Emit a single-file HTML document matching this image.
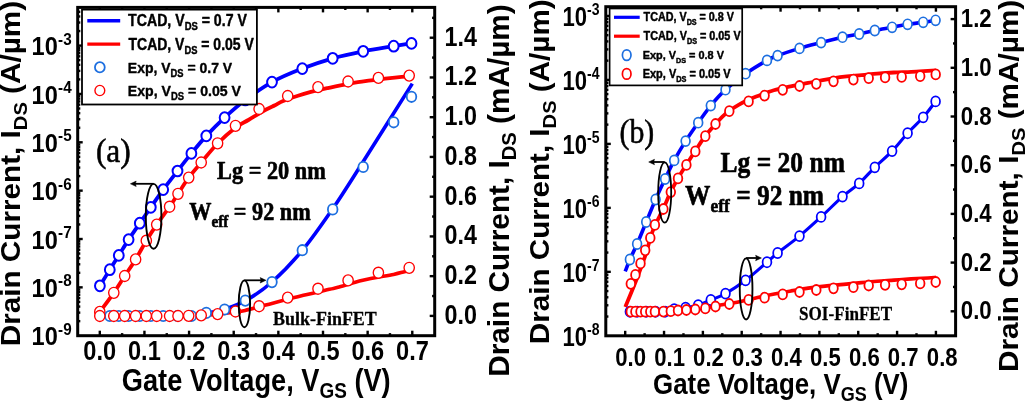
<!DOCTYPE html><html><head><meta charset="utf-8"><style>html,body{margin:0;padding:0;background:#fff;overflow:hidden}svg{display:block;will-change:transform}</style></head><body><svg xmlns="http://www.w3.org/2000/svg" width="1025" height="403" viewBox="0 0 1025 403">
<rect width="1025" height="403" fill="#fff"/>
<path d="M99.90,285.80 C101.55,283.12 106.65,274.77 109.80,269.70 C112.95,264.63 115.67,260.42 118.80,255.40 C121.93,250.38 125.10,244.97 128.60,239.60 C132.10,234.23 136.10,228.58 139.80,223.20 C143.50,217.82 146.90,212.90 150.80,207.30 C154.70,201.70 158.75,195.65 163.20,189.60 C167.65,183.55 172.80,177.03 177.50,171.00 C182.20,164.97 186.60,159.25 191.40,153.40 C196.20,147.55 200.77,141.87 206.30,135.90 C211.83,129.93 218.10,123.58 224.60,117.60 C231.10,111.62 237.40,105.92 245.30,100.00 C253.20,94.08 262.50,87.33 272.00,82.10 C281.50,76.87 292.18,72.57 302.30,68.60 C312.42,64.63 322.55,61.18 332.70,58.30 C342.85,55.42 353.03,53.32 363.20,51.30 C373.37,49.28 385.52,47.55 393.70,46.20 C401.88,44.85 409.20,43.70 412.30,43.20" fill="none" stroke="#0000ff" stroke-width="3.8" stroke-linejoin="round"/>
<path d="M99.80,311.90 C102.13,308.72 109.65,298.78 113.80,292.80 C117.95,286.82 121.07,281.57 124.70,276.00 C128.33,270.43 132.00,265.28 135.60,259.40 C139.20,253.52 142.78,246.50 146.30,240.70 C149.82,234.90 152.82,230.27 156.70,224.60 C160.58,218.93 166.05,211.83 169.60,206.70 C173.15,201.57 174.82,198.65 178.00,193.80 C181.18,188.95 184.83,182.82 188.70,177.60 C192.57,172.38 196.38,168.18 201.20,162.50 C206.02,156.82 211.80,149.38 217.60,143.50 C223.40,137.62 230.87,131.12 236.00,127.20 C241.13,123.28 243.55,122.87 248.40,120.00 C253.25,117.13 260.67,112.47 265.10,110.00 C269.53,107.53 272.00,106.70 275.00,105.20 C278.00,103.70 279.27,102.58 283.10,101.00 C286.93,99.42 293.52,97.17 298.00,95.70 C302.48,94.23 305.05,93.47 310.00,92.20 C314.95,90.93 322.62,89.23 327.70,88.10 C332.78,86.97 334.80,86.47 340.50,85.40 C346.20,84.33 352.83,82.98 361.90,81.70 C370.97,80.42 386.50,78.62 394.90,77.70 C403.30,76.78 409.40,76.45 412.30,76.20" fill="none" stroke="#ff0000" stroke-width="3.8" stroke-linejoin="round"/>
<path d="M99.80,316.00 C108.17,316.00 134.97,316.08 150.00,316.00 C165.03,315.92 180.62,315.97 190.00,315.50 C199.38,315.03 200.53,314.23 206.30,313.20 C212.07,312.17 217.98,311.43 224.60,309.30 C231.22,307.17 238.10,304.95 246.00,300.40 C253.90,295.85 262.62,290.33 272.00,282.00 C281.38,273.67 292.18,262.60 302.30,250.40 C312.42,238.20 322.75,223.28 332.70,208.80 C342.65,194.32 348.73,184.37 362.00,163.50 C375.27,142.63 403.92,96.92 412.30,83.60" fill="none" stroke="#0000ff" stroke-width="3.6" stroke-linejoin="round"/>
<path d="M99.80,316.00 C113.17,316.00 163.10,316.12 180.00,316.00 C196.90,315.88 194.90,315.62 201.20,315.30 C207.50,314.98 212.10,314.65 217.80,314.10 C223.50,313.55 230.85,312.62 235.40,312.00 C239.95,311.38 241.13,311.27 245.10,310.40 C249.07,309.53 254.45,308.05 259.20,306.80 C263.95,305.55 266.23,304.82 273.60,302.90 C280.97,300.98 294.10,297.57 303.40,295.30 C312.70,293.03 323.63,290.63 329.40,289.30 C335.17,287.97 332.43,288.80 338.00,287.30 C343.57,285.80 353.53,282.45 362.80,280.30 C372.07,278.15 386.82,275.80 393.60,274.40 C400.38,273.00 400.38,272.67 403.50,271.90 C406.62,271.13 410.83,270.15 412.30,269.80" fill="none" stroke="#ff0000" stroke-width="3.6" stroke-linejoin="round"/>
<ellipse cx="99.90" cy="285.80" rx="4.9" ry="5.35" fill="#fff" stroke="#0000ff" stroke-width="2"/>
<ellipse cx="109.80" cy="269.70" rx="4.9" ry="5.35" fill="#fff" stroke="#0000ff" stroke-width="2"/>
<ellipse cx="118.80" cy="255.40" rx="4.9" ry="5.35" fill="#fff" stroke="#0000ff" stroke-width="2"/>
<ellipse cx="128.60" cy="239.60" rx="4.9" ry="5.35" fill="#fff" stroke="#0000ff" stroke-width="2"/>
<ellipse cx="139.80" cy="223.20" rx="4.9" ry="5.35" fill="#fff" stroke="#0000ff" stroke-width="2"/>
<ellipse cx="150.80" cy="207.30" rx="4.9" ry="5.35" fill="#fff" stroke="#0000ff" stroke-width="2"/>
<ellipse cx="163.20" cy="189.60" rx="4.9" ry="5.35" fill="#fff" stroke="#0000ff" stroke-width="2"/>
<ellipse cx="177.50" cy="171.00" rx="4.9" ry="5.35" fill="#fff" stroke="#0000ff" stroke-width="2"/>
<ellipse cx="191.40" cy="153.40" rx="4.9" ry="5.35" fill="#fff" stroke="#0000ff" stroke-width="2"/>
<ellipse cx="206.30" cy="135.90" rx="4.9" ry="5.35" fill="#fff" stroke="#0000ff" stroke-width="2"/>
<ellipse cx="224.60" cy="117.60" rx="4.9" ry="5.35" fill="#fff" stroke="#0000ff" stroke-width="2"/>
<ellipse cx="245.30" cy="100.00" rx="4.9" ry="5.35" fill="#fff" stroke="#0000ff" stroke-width="2"/>
<ellipse cx="272.00" cy="82.10" rx="4.9" ry="5.35" fill="#fff" stroke="#0000ff" stroke-width="2"/>
<ellipse cx="302.30" cy="68.60" rx="4.9" ry="5.35" fill="#fff" stroke="#0000ff" stroke-width="2"/>
<ellipse cx="332.70" cy="58.30" rx="4.9" ry="5.35" fill="#fff" stroke="#0000ff" stroke-width="2"/>
<ellipse cx="363.20" cy="51.30" rx="4.9" ry="5.35" fill="#fff" stroke="#0000ff" stroke-width="2"/>
<ellipse cx="393.70" cy="46.20" rx="4.9" ry="5.35" fill="#fff" stroke="#0000ff" stroke-width="2"/>
<ellipse cx="411.50" cy="43.40" rx="4.9" ry="5.35" fill="#fff" stroke="#0000ff" stroke-width="2"/>
<ellipse cx="99.80" cy="311.90" rx="5.15" ry="5.5" fill="#fff" stroke="#ff0000" stroke-width="1.35"/>
<ellipse cx="113.80" cy="292.80" rx="5.15" ry="5.5" fill="#fff" stroke="#ff0000" stroke-width="1.35"/>
<ellipse cx="124.70" cy="276.00" rx="5.15" ry="5.5" fill="#fff" stroke="#ff0000" stroke-width="1.35"/>
<ellipse cx="135.60" cy="259.40" rx="5.15" ry="5.5" fill="#fff" stroke="#ff0000" stroke-width="1.35"/>
<ellipse cx="146.30" cy="240.70" rx="5.15" ry="5.5" fill="#fff" stroke="#ff0000" stroke-width="1.35"/>
<ellipse cx="156.70" cy="224.60" rx="5.15" ry="5.5" fill="#fff" stroke="#ff0000" stroke-width="1.35"/>
<ellipse cx="169.60" cy="206.70" rx="5.15" ry="5.5" fill="#fff" stroke="#ff0000" stroke-width="1.35"/>
<ellipse cx="178.00" cy="193.80" rx="5.15" ry="5.5" fill="#fff" stroke="#ff0000" stroke-width="1.35"/>
<ellipse cx="188.70" cy="177.60" rx="5.15" ry="5.5" fill="#fff" stroke="#ff0000" stroke-width="1.35"/>
<ellipse cx="201.20" cy="162.50" rx="5.15" ry="5.5" fill="#fff" stroke="#ff0000" stroke-width="1.35"/>
<ellipse cx="217.60" cy="143.30" rx="5.15" ry="5.5" fill="#fff" stroke="#ff0000" stroke-width="1.35"/>
<ellipse cx="235.50" cy="125.80" rx="5.15" ry="5.5" fill="#fff" stroke="#ff0000" stroke-width="1.35"/>
<ellipse cx="259.10" cy="109.00" rx="5.15" ry="5.5" fill="#fff" stroke="#ff0000" stroke-width="1.35"/>
<ellipse cx="287.70" cy="96.00" rx="5.15" ry="5.5" fill="#fff" stroke="#ff0000" stroke-width="1.35"/>
<ellipse cx="318.00" cy="87.10" rx="5.15" ry="5.5" fill="#fff" stroke="#ff0000" stroke-width="1.35"/>
<ellipse cx="348.10" cy="81.50" rx="5.15" ry="5.5" fill="#fff" stroke="#ff0000" stroke-width="1.35"/>
<ellipse cx="378.40" cy="77.90" rx="5.15" ry="5.5" fill="#fff" stroke="#ff0000" stroke-width="1.35"/>
<ellipse cx="409.20" cy="75.60" rx="5.15" ry="5.5" fill="#fff" stroke="#ff0000" stroke-width="1.35"/>
<ellipse cx="109.80" cy="316.00" rx="4.8" ry="5.2" fill="#fff" stroke="#1d6fe0" stroke-width="1.8"/>
<ellipse cx="118.80" cy="316.00" rx="4.8" ry="5.2" fill="#fff" stroke="#1d6fe0" stroke-width="1.8"/>
<ellipse cx="128.60" cy="316.00" rx="4.8" ry="5.2" fill="#fff" stroke="#1d6fe0" stroke-width="1.8"/>
<ellipse cx="139.80" cy="316.00" rx="4.8" ry="5.2" fill="#fff" stroke="#1d6fe0" stroke-width="1.8"/>
<ellipse cx="150.80" cy="316.00" rx="4.8" ry="5.2" fill="#fff" stroke="#1d6fe0" stroke-width="1.8"/>
<ellipse cx="163.20" cy="316.00" rx="4.8" ry="5.2" fill="#fff" stroke="#1d6fe0" stroke-width="1.8"/>
<ellipse cx="177.50" cy="316.00" rx="4.8" ry="5.2" fill="#fff" stroke="#1d6fe0" stroke-width="1.8"/>
<ellipse cx="191.40" cy="316.00" rx="4.8" ry="5.2" fill="#fff" stroke="#1d6fe0" stroke-width="1.8"/>
<ellipse cx="206.30" cy="312.90" rx="4.8" ry="5.2" fill="#fff" stroke="#1d6fe0" stroke-width="1.8"/>
<ellipse cx="224.60" cy="309.50" rx="4.8" ry="5.2" fill="#fff" stroke="#1d6fe0" stroke-width="1.8"/>
<ellipse cx="245.30" cy="300.60" rx="4.8" ry="5.2" fill="#fff" stroke="#1d6fe0" stroke-width="1.8"/>
<ellipse cx="272.00" cy="282.10" rx="4.8" ry="5.2" fill="#fff" stroke="#1d6fe0" stroke-width="1.8"/>
<ellipse cx="302.30" cy="250.20" rx="4.8" ry="5.2" fill="#fff" stroke="#1d6fe0" stroke-width="1.8"/>
<ellipse cx="332.70" cy="209.40" rx="4.8" ry="5.2" fill="#fff" stroke="#1d6fe0" stroke-width="1.8"/>
<ellipse cx="363.20" cy="167.00" rx="4.8" ry="5.2" fill="#fff" stroke="#1d6fe0" stroke-width="1.8"/>
<ellipse cx="393.70" cy="122.30" rx="4.8" ry="5.2" fill="#fff" stroke="#1d6fe0" stroke-width="1.8"/>
<ellipse cx="411.50" cy="96.80" rx="4.8" ry="5.2" fill="#fff" stroke="#1d6fe0" stroke-width="1.8"/>
<ellipse cx="99.80" cy="316.00" rx="5.15" ry="5.5" fill="#fff" stroke="#ff0000" stroke-width="1.35"/>
<ellipse cx="113.80" cy="316.00" rx="5.15" ry="5.5" fill="#fff" stroke="#ff0000" stroke-width="1.35"/>
<ellipse cx="124.70" cy="316.00" rx="5.15" ry="5.5" fill="#fff" stroke="#ff0000" stroke-width="1.35"/>
<ellipse cx="135.60" cy="316.00" rx="5.15" ry="5.5" fill="#fff" stroke="#ff0000" stroke-width="1.35"/>
<ellipse cx="146.30" cy="316.00" rx="5.15" ry="5.5" fill="#fff" stroke="#ff0000" stroke-width="1.35"/>
<ellipse cx="156.70" cy="316.00" rx="5.15" ry="5.5" fill="#fff" stroke="#ff0000" stroke-width="1.35"/>
<ellipse cx="169.60" cy="316.00" rx="5.15" ry="5.5" fill="#fff" stroke="#ff0000" stroke-width="1.35"/>
<ellipse cx="178.00" cy="316.00" rx="5.15" ry="5.5" fill="#fff" stroke="#ff0000" stroke-width="1.35"/>
<ellipse cx="188.70" cy="315.80" rx="5.15" ry="5.5" fill="#fff" stroke="#ff0000" stroke-width="1.35"/>
<ellipse cx="201.20" cy="315.40" rx="5.15" ry="5.5" fill="#fff" stroke="#ff0000" stroke-width="1.35"/>
<ellipse cx="217.60" cy="314.10" rx="5.15" ry="5.5" fill="#fff" stroke="#ff0000" stroke-width="1.35"/>
<ellipse cx="235.50" cy="311.50" rx="5.15" ry="5.5" fill="#fff" stroke="#ff0000" stroke-width="1.35"/>
<ellipse cx="259.10" cy="306.20" rx="5.15" ry="5.5" fill="#fff" stroke="#ff0000" stroke-width="1.35"/>
<ellipse cx="287.70" cy="297.60" rx="5.15" ry="5.5" fill="#fff" stroke="#ff0000" stroke-width="1.35"/>
<ellipse cx="318.00" cy="288.70" rx="5.15" ry="5.5" fill="#fff" stroke="#ff0000" stroke-width="1.35"/>
<ellipse cx="348.10" cy="280.40" rx="5.15" ry="5.5" fill="#fff" stroke="#ff0000" stroke-width="1.35"/>
<ellipse cx="378.40" cy="272.70" rx="5.15" ry="5.5" fill="#fff" stroke="#ff0000" stroke-width="1.35"/>
<ellipse cx="409.20" cy="267.80" rx="5.15" ry="5.5" fill="#fff" stroke="#ff0000" stroke-width="1.35"/>
<path d="M625.20,271.40 C625.98,269.42 627.92,264.07 629.90,259.50 C631.88,254.93 634.38,250.25 637.10,244.00 C639.82,237.75 643.12,229.42 646.20,222.00 C649.28,214.58 652.45,206.67 655.60,199.50 C658.75,192.33 662.00,185.52 665.10,179.00 C668.20,172.48 670.78,166.72 674.20,160.40 C677.62,154.08 681.60,147.38 685.60,141.10 C689.60,134.82 694.00,128.62 698.20,122.70 C702.40,116.78 706.25,111.10 710.80,105.60 C715.35,100.10 719.70,95.02 725.50,89.70 C731.30,84.38 738.68,78.58 745.60,73.70 C752.52,68.82 761.67,63.42 767.00,60.40 C772.33,57.38 772.18,57.60 777.60,55.60 C783.02,53.60 792.25,50.57 799.50,48.40 C806.75,46.23 813.93,44.47 821.10,42.60 C828.27,40.73 836.15,38.63 842.50,37.20 C848.85,35.77 853.82,35.12 859.20,34.00 C864.58,32.88 869.32,31.62 874.80,30.50 C880.28,29.38 886.63,28.33 892.10,27.30 C897.57,26.27 902.42,25.13 907.60,24.30 C912.78,23.47 918.53,22.97 923.20,22.30 C927.87,21.63 933.53,20.63 935.60,20.30" fill="none" stroke="#0000ff" stroke-width="3.6" stroke-linejoin="round"/>
<path d="M625.30,307.00 C627.13,302.50 632.82,289.00 636.30,280.00 C639.78,271.00 643.87,260.00 646.20,253.00 C648.53,246.00 648.83,242.57 650.30,238.00 C651.77,233.43 652.85,230.45 655.00,225.60 C657.15,220.75 660.60,214.47 663.20,208.90 C665.80,203.33 668.13,197.30 670.60,192.20 C673.07,187.10 675.37,182.88 678.00,178.30 C680.63,173.72 683.53,169.25 686.40,164.70 C689.27,160.15 692.07,155.78 695.20,151.00 C698.33,146.22 701.82,140.47 705.20,136.00 C708.58,131.53 712.67,127.40 715.50,124.20 C718.33,121.00 719.93,119.00 722.20,116.80 C724.47,114.60 726.37,112.98 729.10,111.00 C731.83,109.02 735.37,106.77 738.60,104.90 C741.83,103.03 745.45,101.23 748.50,99.80 C751.55,98.37 752.68,97.88 756.90,96.30 C761.12,94.72 768.18,91.95 773.80,90.30 C779.42,88.65 784.90,87.63 790.60,86.40 C796.30,85.17 799.77,84.45 808.00,82.90 C816.23,81.35 831.08,78.38 840.00,77.10 C848.92,75.82 855.33,75.77 861.50,75.20 C867.67,74.63 871.63,74.15 877.00,73.70 C882.37,73.25 888.00,72.82 893.70,72.50 C899.40,72.18 905.52,72.08 911.20,71.80 C916.88,71.52 923.68,71.05 927.80,70.80 C931.92,70.55 934.55,70.38 935.90,70.30" fill="none" stroke="#ff0000" stroke-width="3.8" stroke-linejoin="round"/>
<path d="M625.20,311.30 C631.00,311.25 651.83,311.33 660.00,311.00 C668.17,310.67 669.93,309.83 674.20,309.30 C678.47,308.77 681.60,308.48 685.60,307.80 C689.60,307.12 694.00,306.50 698.20,305.20 C702.40,303.90 706.25,301.93 710.80,300.00 C715.35,298.07 719.70,296.88 725.50,293.60 C731.30,290.32 738.68,285.53 745.60,280.30 C752.52,275.07 761.67,266.75 767.00,262.20 C772.33,257.65 772.18,257.35 777.60,253.00 C783.02,248.65 792.25,242.12 799.50,236.10 C806.75,230.08 813.93,223.48 821.10,216.90 C828.27,210.32 836.15,202.18 842.50,196.60 C848.85,191.02 853.82,188.28 859.20,183.40 C864.58,178.52 869.32,172.68 874.80,167.30 C880.28,161.92 886.63,156.78 892.10,151.10 C897.57,145.42 902.42,138.83 907.60,133.20 C912.78,127.57 918.53,122.60 923.20,117.30 C927.87,112.00 933.53,104.05 935.60,101.40" fill="none" stroke="#0000ff" stroke-width="3.1" stroke-linejoin="round"/>
<path d="M625.20,311.30 C631.57,311.28 653.20,311.45 663.40,311.20 C673.60,310.95 679.42,310.33 686.40,309.80 C693.38,309.27 700.40,308.67 705.30,308.00 C710.20,307.33 711.77,306.53 715.80,305.80 C719.83,305.07 724.63,304.48 729.50,303.60 C734.37,302.72 740.33,301.52 745.00,300.50 C749.67,299.48 752.62,298.58 757.50,297.50 C762.38,296.42 768.72,295.10 774.30,294.00 C779.88,292.90 785.35,291.88 791.00,290.90 C796.65,289.92 802.53,288.90 808.20,288.10 C813.87,287.30 819.08,286.72 825.00,286.10 C830.92,285.48 837.65,284.98 843.70,284.40 C849.75,283.82 855.73,283.13 861.30,282.60 C866.87,282.07 871.63,281.62 877.10,281.20 C882.57,280.78 888.43,280.48 894.10,280.10 C899.77,279.72 905.45,279.25 911.10,278.90 C916.75,278.55 923.87,278.25 928.00,278.00 C932.13,277.75 934.58,277.50 935.90,277.40" fill="none" stroke="#ff0000" stroke-width="3.6" stroke-linejoin="round"/>
<ellipse cx="629.90" cy="259.50" rx="4.4" ry="5.05" fill="#fff" stroke="#1d6fe0" stroke-width="1.7"/>
<ellipse cx="637.10" cy="244.00" rx="4.4" ry="5.05" fill="#fff" stroke="#1d6fe0" stroke-width="1.7"/>
<ellipse cx="646.20" cy="222.00" rx="4.4" ry="5.05" fill="#fff" stroke="#1d6fe0" stroke-width="1.7"/>
<ellipse cx="655.60" cy="199.50" rx="4.4" ry="5.05" fill="#fff" stroke="#1d6fe0" stroke-width="1.7"/>
<ellipse cx="665.10" cy="179.00" rx="4.4" ry="5.05" fill="#fff" stroke="#1d6fe0" stroke-width="1.7"/>
<ellipse cx="674.20" cy="160.40" rx="4.4" ry="5.05" fill="#fff" stroke="#1d6fe0" stroke-width="1.7"/>
<ellipse cx="685.60" cy="141.10" rx="4.4" ry="5.05" fill="#fff" stroke="#1d6fe0" stroke-width="1.7"/>
<ellipse cx="698.20" cy="122.70" rx="4.4" ry="5.05" fill="#fff" stroke="#1d6fe0" stroke-width="1.7"/>
<ellipse cx="710.80" cy="105.60" rx="4.4" ry="5.05" fill="#fff" stroke="#1d6fe0" stroke-width="1.7"/>
<ellipse cx="725.50" cy="89.70" rx="4.4" ry="5.05" fill="#fff" stroke="#1d6fe0" stroke-width="1.7"/>
<ellipse cx="745.60" cy="73.70" rx="4.4" ry="5.05" fill="#fff" stroke="#1d6fe0" stroke-width="1.7"/>
<ellipse cx="767.00" cy="60.40" rx="4.4" ry="5.05" fill="#fff" stroke="#1d6fe0" stroke-width="1.7"/>
<ellipse cx="777.60" cy="55.60" rx="4.4" ry="5.05" fill="#fff" stroke="#1d6fe0" stroke-width="1.7"/>
<ellipse cx="799.50" cy="48.40" rx="4.4" ry="5.05" fill="#fff" stroke="#1d6fe0" stroke-width="1.7"/>
<ellipse cx="821.10" cy="42.60" rx="4.4" ry="5.05" fill="#fff" stroke="#1d6fe0" stroke-width="1.7"/>
<ellipse cx="842.50" cy="37.20" rx="4.4" ry="5.05" fill="#fff" stroke="#1d6fe0" stroke-width="1.7"/>
<ellipse cx="859.20" cy="34.00" rx="4.4" ry="5.05" fill="#fff" stroke="#1d6fe0" stroke-width="1.7"/>
<ellipse cx="874.80" cy="30.50" rx="4.4" ry="5.05" fill="#fff" stroke="#1d6fe0" stroke-width="1.7"/>
<ellipse cx="892.10" cy="27.30" rx="4.4" ry="5.05" fill="#fff" stroke="#1d6fe0" stroke-width="1.7"/>
<ellipse cx="907.60" cy="24.30" rx="4.4" ry="5.05" fill="#fff" stroke="#1d6fe0" stroke-width="1.7"/>
<ellipse cx="923.20" cy="22.30" rx="4.4" ry="5.05" fill="#fff" stroke="#1d6fe0" stroke-width="1.7"/>
<ellipse cx="935.60" cy="20.30" rx="4.4" ry="5.05" fill="#fff" stroke="#1d6fe0" stroke-width="1.7"/>
<ellipse cx="630.80" cy="283.80" rx="4.3" ry="5.0" fill="#fff" stroke="#ff0000" stroke-width="1.8"/>
<ellipse cx="635.40" cy="274.90" rx="4.3" ry="5.0" fill="#fff" stroke="#ff0000" stroke-width="1.8"/>
<ellipse cx="640.50" cy="263.40" rx="4.3" ry="5.0" fill="#fff" stroke="#ff0000" stroke-width="1.8"/>
<ellipse cx="645.20" cy="250.30" rx="4.3" ry="5.0" fill="#fff" stroke="#ff0000" stroke-width="1.8"/>
<ellipse cx="650.30" cy="237.90" rx="4.3" ry="5.0" fill="#fff" stroke="#ff0000" stroke-width="1.8"/>
<ellipse cx="654.90" cy="224.90" rx="4.3" ry="5.0" fill="#fff" stroke="#ff0000" stroke-width="1.8"/>
<ellipse cx="663.40" cy="209.00" rx="4.3" ry="5.0" fill="#fff" stroke="#ff0000" stroke-width="1.8"/>
<ellipse cx="670.80" cy="192.10" rx="4.3" ry="5.0" fill="#fff" stroke="#ff0000" stroke-width="1.8"/>
<ellipse cx="678.00" cy="178.40" rx="4.3" ry="5.0" fill="#fff" stroke="#ff0000" stroke-width="1.8"/>
<ellipse cx="686.40" cy="164.90" rx="4.3" ry="5.0" fill="#fff" stroke="#ff0000" stroke-width="1.8"/>
<ellipse cx="695.30" cy="151.40" rx="4.3" ry="5.0" fill="#fff" stroke="#ff0000" stroke-width="1.8"/>
<ellipse cx="705.30" cy="136.20" rx="4.3" ry="5.0" fill="#fff" stroke="#ff0000" stroke-width="1.8"/>
<ellipse cx="715.50" cy="124.00" rx="4.3" ry="5.0" fill="#fff" stroke="#ff0000" stroke-width="1.8"/>
<ellipse cx="729.30" cy="111.20" rx="4.3" ry="5.0" fill="#fff" stroke="#ff0000" stroke-width="1.8"/>
<ellipse cx="748.60" cy="101.40" rx="4.3" ry="5.0" fill="#fff" stroke="#ff0000" stroke-width="1.8"/>
<ellipse cx="764.60" cy="95.60" rx="4.3" ry="5.0" fill="#fff" stroke="#ff0000" stroke-width="1.8"/>
<ellipse cx="782.70" cy="89.80" rx="4.3" ry="5.0" fill="#fff" stroke="#ff0000" stroke-width="1.8"/>
<ellipse cx="799.50" cy="86.00" rx="4.3" ry="5.0" fill="#fff" stroke="#ff0000" stroke-width="1.8"/>
<ellipse cx="816.30" cy="83.80" rx="4.3" ry="5.0" fill="#fff" stroke="#ff0000" stroke-width="1.8"/>
<ellipse cx="833.50" cy="81.30" rx="4.3" ry="5.0" fill="#fff" stroke="#ff0000" stroke-width="1.8"/>
<ellipse cx="853.40" cy="79.60" rx="4.3" ry="5.0" fill="#fff" stroke="#ff0000" stroke-width="1.8"/>
<ellipse cx="868.70" cy="78.20" rx="4.3" ry="5.0" fill="#fff" stroke="#ff0000" stroke-width="1.8"/>
<ellipse cx="885.10" cy="77.40" rx="4.3" ry="5.0" fill="#fff" stroke="#ff0000" stroke-width="1.8"/>
<ellipse cx="901.70" cy="76.90" rx="4.3" ry="5.0" fill="#fff" stroke="#ff0000" stroke-width="1.8"/>
<ellipse cx="920.20" cy="76.20" rx="4.3" ry="5.0" fill="#fff" stroke="#ff0000" stroke-width="1.8"/>
<ellipse cx="935.70" cy="74.40" rx="4.3" ry="5.0" fill="#fff" stroke="#ff0000" stroke-width="1.8"/>
<ellipse cx="629.90" cy="311.70" rx="4.4" ry="5.05" fill="#fff" stroke="#0000ff" stroke-width="1.75"/>
<ellipse cx="637.10" cy="311.70" rx="4.4" ry="5.05" fill="#fff" stroke="#0000ff" stroke-width="1.75"/>
<ellipse cx="646.20" cy="311.70" rx="4.4" ry="5.05" fill="#fff" stroke="#0000ff" stroke-width="1.75"/>
<ellipse cx="655.60" cy="311.70" rx="4.4" ry="5.05" fill="#fff" stroke="#0000ff" stroke-width="1.75"/>
<ellipse cx="665.10" cy="311.70" rx="4.4" ry="5.05" fill="#fff" stroke="#0000ff" stroke-width="1.75"/>
<ellipse cx="674.20" cy="309.20" rx="4.4" ry="5.05" fill="#fff" stroke="#0000ff" stroke-width="1.75"/>
<ellipse cx="685.60" cy="307.70" rx="4.4" ry="5.05" fill="#fff" stroke="#0000ff" stroke-width="1.75"/>
<ellipse cx="698.20" cy="305.20" rx="4.4" ry="5.05" fill="#fff" stroke="#0000ff" stroke-width="1.75"/>
<ellipse cx="710.80" cy="300.00" rx="4.4" ry="5.05" fill="#fff" stroke="#0000ff" stroke-width="1.75"/>
<ellipse cx="725.50" cy="293.60" rx="4.4" ry="5.05" fill="#fff" stroke="#0000ff" stroke-width="1.75"/>
<ellipse cx="745.60" cy="280.30" rx="4.4" ry="5.05" fill="#fff" stroke="#0000ff" stroke-width="1.75"/>
<ellipse cx="767.00" cy="262.20" rx="4.4" ry="5.05" fill="#fff" stroke="#0000ff" stroke-width="1.75"/>
<ellipse cx="777.60" cy="253.00" rx="4.4" ry="5.05" fill="#fff" stroke="#0000ff" stroke-width="1.75"/>
<ellipse cx="799.50" cy="236.10" rx="4.4" ry="5.05" fill="#fff" stroke="#0000ff" stroke-width="1.75"/>
<ellipse cx="821.10" cy="216.90" rx="4.4" ry="5.05" fill="#fff" stroke="#0000ff" stroke-width="1.75"/>
<ellipse cx="842.50" cy="196.60" rx="4.4" ry="5.05" fill="#fff" stroke="#0000ff" stroke-width="1.75"/>
<ellipse cx="859.20" cy="183.40" rx="4.4" ry="5.05" fill="#fff" stroke="#0000ff" stroke-width="1.75"/>
<ellipse cx="874.80" cy="167.30" rx="4.4" ry="5.05" fill="#fff" stroke="#0000ff" stroke-width="1.75"/>
<ellipse cx="892.10" cy="151.10" rx="4.4" ry="5.05" fill="#fff" stroke="#0000ff" stroke-width="1.75"/>
<ellipse cx="907.60" cy="133.20" rx="4.4" ry="5.05" fill="#fff" stroke="#0000ff" stroke-width="1.75"/>
<ellipse cx="923.20" cy="117.30" rx="4.4" ry="5.05" fill="#fff" stroke="#0000ff" stroke-width="1.75"/>
<ellipse cx="935.60" cy="101.40" rx="4.4" ry="5.05" fill="#fff" stroke="#0000ff" stroke-width="1.75"/>
<ellipse cx="630.80" cy="311.70" rx="4.3" ry="5.0" fill="#fff" stroke="#ff0000" stroke-width="1.8"/>
<ellipse cx="635.40" cy="311.70" rx="4.3" ry="5.0" fill="#fff" stroke="#ff0000" stroke-width="1.8"/>
<ellipse cx="640.50" cy="311.70" rx="4.3" ry="5.0" fill="#fff" stroke="#ff0000" stroke-width="1.8"/>
<ellipse cx="645.20" cy="311.70" rx="4.3" ry="5.0" fill="#fff" stroke="#ff0000" stroke-width="1.8"/>
<ellipse cx="650.30" cy="311.70" rx="4.3" ry="5.0" fill="#fff" stroke="#ff0000" stroke-width="1.8"/>
<ellipse cx="654.90" cy="311.70" rx="4.3" ry="5.0" fill="#fff" stroke="#ff0000" stroke-width="1.8"/>
<ellipse cx="663.40" cy="311.60" rx="4.3" ry="5.0" fill="#fff" stroke="#ff0000" stroke-width="1.8"/>
<ellipse cx="670.80" cy="311.20" rx="4.3" ry="5.0" fill="#fff" stroke="#ff0000" stroke-width="1.8"/>
<ellipse cx="678.00" cy="310.50" rx="4.3" ry="5.0" fill="#fff" stroke="#ff0000" stroke-width="1.8"/>
<ellipse cx="686.40" cy="310.00" rx="4.3" ry="5.0" fill="#fff" stroke="#ff0000" stroke-width="1.8"/>
<ellipse cx="695.30" cy="309.50" rx="4.3" ry="5.0" fill="#fff" stroke="#ff0000" stroke-width="1.8"/>
<ellipse cx="705.30" cy="308.40" rx="4.3" ry="5.0" fill="#fff" stroke="#ff0000" stroke-width="1.8"/>
<ellipse cx="715.50" cy="306.50" rx="4.3" ry="5.0" fill="#fff" stroke="#ff0000" stroke-width="1.8"/>
<ellipse cx="729.30" cy="304.00" rx="4.3" ry="5.0" fill="#fff" stroke="#ff0000" stroke-width="1.8"/>
<ellipse cx="748.60" cy="299.90" rx="4.3" ry="5.0" fill="#fff" stroke="#ff0000" stroke-width="1.8"/>
<ellipse cx="764.60" cy="297.70" rx="4.3" ry="5.0" fill="#fff" stroke="#ff0000" stroke-width="1.8"/>
<ellipse cx="782.70" cy="294.40" rx="4.3" ry="5.0" fill="#fff" stroke="#ff0000" stroke-width="1.8"/>
<ellipse cx="799.50" cy="292.00" rx="4.3" ry="5.0" fill="#fff" stroke="#ff0000" stroke-width="1.8"/>
<ellipse cx="816.30" cy="290.00" rx="4.3" ry="5.0" fill="#fff" stroke="#ff0000" stroke-width="1.8"/>
<ellipse cx="833.50" cy="288.30" rx="4.3" ry="5.0" fill="#fff" stroke="#ff0000" stroke-width="1.8"/>
<ellipse cx="853.40" cy="287.20" rx="4.3" ry="5.0" fill="#fff" stroke="#ff0000" stroke-width="1.8"/>
<ellipse cx="868.70" cy="285.50" rx="4.3" ry="5.0" fill="#fff" stroke="#ff0000" stroke-width="1.8"/>
<ellipse cx="885.10" cy="284.80" rx="4.3" ry="5.0" fill="#fff" stroke="#ff0000" stroke-width="1.8"/>
<ellipse cx="901.70" cy="284.30" rx="4.3" ry="5.0" fill="#fff" stroke="#ff0000" stroke-width="1.8"/>
<ellipse cx="920.20" cy="283.40" rx="4.3" ry="5.0" fill="#fff" stroke="#ff0000" stroke-width="1.8"/>
<ellipse cx="935.70" cy="282.00" rx="4.3" ry="5.0" fill="#fff" stroke="#ff0000" stroke-width="1.8"/>
<line x1="99.80" y1="335.70" x2="99.80" y2="330.70" stroke="#000" stroke-width="2.4"/>
<line x1="99.80" y1="7.40" x2="99.80" y2="12.40" stroke="#000" stroke-width="2.4"/>
<line x1="144.44" y1="335.70" x2="144.44" y2="330.70" stroke="#000" stroke-width="2.4"/>
<line x1="144.44" y1="7.40" x2="144.44" y2="12.40" stroke="#000" stroke-width="2.4"/>
<line x1="189.08" y1="335.70" x2="189.08" y2="330.70" stroke="#000" stroke-width="2.4"/>
<line x1="189.08" y1="7.40" x2="189.08" y2="12.40" stroke="#000" stroke-width="2.4"/>
<line x1="233.72" y1="335.70" x2="233.72" y2="330.70" stroke="#000" stroke-width="2.4"/>
<line x1="233.72" y1="7.40" x2="233.72" y2="12.40" stroke="#000" stroke-width="2.4"/>
<line x1="278.36" y1="335.70" x2="278.36" y2="330.70" stroke="#000" stroke-width="2.4"/>
<line x1="278.36" y1="7.40" x2="278.36" y2="12.40" stroke="#000" stroke-width="2.4"/>
<line x1="323.00" y1="335.70" x2="323.00" y2="330.70" stroke="#000" stroke-width="2.4"/>
<line x1="323.00" y1="7.40" x2="323.00" y2="12.40" stroke="#000" stroke-width="2.4"/>
<line x1="367.64" y1="335.70" x2="367.64" y2="330.70" stroke="#000" stroke-width="2.4"/>
<line x1="367.64" y1="7.40" x2="367.64" y2="12.40" stroke="#000" stroke-width="2.4"/>
<line x1="412.28" y1="335.70" x2="412.28" y2="330.70" stroke="#000" stroke-width="2.4"/>
<line x1="412.28" y1="7.40" x2="412.28" y2="12.40" stroke="#000" stroke-width="2.4"/>
<line x1="122.12" y1="335.70" x2="122.12" y2="333.10" stroke="#000" stroke-width="2.4"/>
<line x1="122.12" y1="7.40" x2="122.12" y2="10.00" stroke="#000" stroke-width="2.4"/>
<line x1="166.76" y1="335.70" x2="166.76" y2="333.10" stroke="#000" stroke-width="2.4"/>
<line x1="166.76" y1="7.40" x2="166.76" y2="10.00" stroke="#000" stroke-width="2.4"/>
<line x1="211.40" y1="335.70" x2="211.40" y2="333.10" stroke="#000" stroke-width="2.4"/>
<line x1="211.40" y1="7.40" x2="211.40" y2="10.00" stroke="#000" stroke-width="2.4"/>
<line x1="256.04" y1="335.70" x2="256.04" y2="333.10" stroke="#000" stroke-width="2.4"/>
<line x1="256.04" y1="7.40" x2="256.04" y2="10.00" stroke="#000" stroke-width="2.4"/>
<line x1="300.68" y1="335.70" x2="300.68" y2="333.10" stroke="#000" stroke-width="2.4"/>
<line x1="300.68" y1="7.40" x2="300.68" y2="10.00" stroke="#000" stroke-width="2.4"/>
<line x1="345.32" y1="335.70" x2="345.32" y2="333.10" stroke="#000" stroke-width="2.4"/>
<line x1="345.32" y1="7.40" x2="345.32" y2="10.00" stroke="#000" stroke-width="2.4"/>
<line x1="389.96" y1="335.70" x2="389.96" y2="333.10" stroke="#000" stroke-width="2.4"/>
<line x1="389.96" y1="7.40" x2="389.96" y2="10.00" stroke="#000" stroke-width="2.4"/>
<line x1="77.70" y1="287.35" x2="82.70" y2="287.35" stroke="#000" stroke-width="2.4"/>
<line x1="77.70" y1="239.00" x2="82.70" y2="239.00" stroke="#000" stroke-width="2.4"/>
<line x1="77.70" y1="190.65" x2="82.70" y2="190.65" stroke="#000" stroke-width="2.4"/>
<line x1="77.70" y1="142.30" x2="82.70" y2="142.30" stroke="#000" stroke-width="2.4"/>
<line x1="77.70" y1="93.95" x2="82.70" y2="93.95" stroke="#000" stroke-width="2.4"/>
<line x1="77.70" y1="45.60" x2="82.70" y2="45.60" stroke="#000" stroke-width="2.4"/>
<line x1="77.70" y1="321.15" x2="80.30" y2="321.15" stroke="#000" stroke-width="2.4"/>
<line x1="77.70" y1="312.63" x2="80.30" y2="312.63" stroke="#000" stroke-width="2.4"/>
<line x1="77.70" y1="306.59" x2="80.30" y2="306.59" stroke="#000" stroke-width="2.4"/>
<line x1="77.70" y1="301.90" x2="80.30" y2="301.90" stroke="#000" stroke-width="2.4"/>
<line x1="77.70" y1="298.08" x2="80.30" y2="298.08" stroke="#000" stroke-width="2.4"/>
<line x1="77.70" y1="294.84" x2="80.30" y2="294.84" stroke="#000" stroke-width="2.4"/>
<line x1="77.70" y1="292.04" x2="80.30" y2="292.04" stroke="#000" stroke-width="2.4"/>
<line x1="77.70" y1="289.56" x2="80.30" y2="289.56" stroke="#000" stroke-width="2.4"/>
<line x1="77.70" y1="272.80" x2="80.30" y2="272.80" stroke="#000" stroke-width="2.4"/>
<line x1="77.70" y1="264.28" x2="80.30" y2="264.28" stroke="#000" stroke-width="2.4"/>
<line x1="77.70" y1="258.24" x2="80.30" y2="258.24" stroke="#000" stroke-width="2.4"/>
<line x1="77.70" y1="253.55" x2="80.30" y2="253.55" stroke="#000" stroke-width="2.4"/>
<line x1="77.70" y1="249.73" x2="80.30" y2="249.73" stroke="#000" stroke-width="2.4"/>
<line x1="77.70" y1="246.49" x2="80.30" y2="246.49" stroke="#000" stroke-width="2.4"/>
<line x1="77.70" y1="243.69" x2="80.30" y2="243.69" stroke="#000" stroke-width="2.4"/>
<line x1="77.70" y1="241.21" x2="80.30" y2="241.21" stroke="#000" stroke-width="2.4"/>
<line x1="77.70" y1="224.45" x2="80.30" y2="224.45" stroke="#000" stroke-width="2.4"/>
<line x1="77.70" y1="215.93" x2="80.30" y2="215.93" stroke="#000" stroke-width="2.4"/>
<line x1="77.70" y1="209.89" x2="80.30" y2="209.89" stroke="#000" stroke-width="2.4"/>
<line x1="77.70" y1="205.20" x2="80.30" y2="205.20" stroke="#000" stroke-width="2.4"/>
<line x1="77.70" y1="201.38" x2="80.30" y2="201.38" stroke="#000" stroke-width="2.4"/>
<line x1="77.70" y1="198.14" x2="80.30" y2="198.14" stroke="#000" stroke-width="2.4"/>
<line x1="77.70" y1="195.34" x2="80.30" y2="195.34" stroke="#000" stroke-width="2.4"/>
<line x1="77.70" y1="192.86" x2="80.30" y2="192.86" stroke="#000" stroke-width="2.4"/>
<line x1="77.70" y1="176.10" x2="80.30" y2="176.10" stroke="#000" stroke-width="2.4"/>
<line x1="77.70" y1="167.58" x2="80.30" y2="167.58" stroke="#000" stroke-width="2.4"/>
<line x1="77.70" y1="161.54" x2="80.30" y2="161.54" stroke="#000" stroke-width="2.4"/>
<line x1="77.70" y1="156.85" x2="80.30" y2="156.85" stroke="#000" stroke-width="2.4"/>
<line x1="77.70" y1="153.03" x2="80.30" y2="153.03" stroke="#000" stroke-width="2.4"/>
<line x1="77.70" y1="149.79" x2="80.30" y2="149.79" stroke="#000" stroke-width="2.4"/>
<line x1="77.70" y1="146.99" x2="80.30" y2="146.99" stroke="#000" stroke-width="2.4"/>
<line x1="77.70" y1="144.51" x2="80.30" y2="144.51" stroke="#000" stroke-width="2.4"/>
<line x1="77.70" y1="127.75" x2="80.30" y2="127.75" stroke="#000" stroke-width="2.4"/>
<line x1="77.70" y1="119.23" x2="80.30" y2="119.23" stroke="#000" stroke-width="2.4"/>
<line x1="77.70" y1="113.19" x2="80.30" y2="113.19" stroke="#000" stroke-width="2.4"/>
<line x1="77.70" y1="108.50" x2="80.30" y2="108.50" stroke="#000" stroke-width="2.4"/>
<line x1="77.70" y1="104.68" x2="80.30" y2="104.68" stroke="#000" stroke-width="2.4"/>
<line x1="77.70" y1="101.44" x2="80.30" y2="101.44" stroke="#000" stroke-width="2.4"/>
<line x1="77.70" y1="98.64" x2="80.30" y2="98.64" stroke="#000" stroke-width="2.4"/>
<line x1="77.70" y1="96.16" x2="80.30" y2="96.16" stroke="#000" stroke-width="2.4"/>
<line x1="77.70" y1="79.40" x2="80.30" y2="79.40" stroke="#000" stroke-width="2.4"/>
<line x1="77.70" y1="70.88" x2="80.30" y2="70.88" stroke="#000" stroke-width="2.4"/>
<line x1="77.70" y1="64.84" x2="80.30" y2="64.84" stroke="#000" stroke-width="2.4"/>
<line x1="77.70" y1="60.15" x2="80.30" y2="60.15" stroke="#000" stroke-width="2.4"/>
<line x1="77.70" y1="56.33" x2="80.30" y2="56.33" stroke="#000" stroke-width="2.4"/>
<line x1="77.70" y1="53.09" x2="80.30" y2="53.09" stroke="#000" stroke-width="2.4"/>
<line x1="77.70" y1="50.29" x2="80.30" y2="50.29" stroke="#000" stroke-width="2.4"/>
<line x1="77.70" y1="47.81" x2="80.30" y2="47.81" stroke="#000" stroke-width="2.4"/>
<line x1="77.70" y1="31.05" x2="80.30" y2="31.05" stroke="#000" stroke-width="2.4"/>
<line x1="77.70" y1="22.53" x2="80.30" y2="22.53" stroke="#000" stroke-width="2.4"/>
<line x1="77.70" y1="16.49" x2="80.30" y2="16.49" stroke="#000" stroke-width="2.4"/>
<line x1="77.70" y1="11.80" x2="80.30" y2="11.80" stroke="#000" stroke-width="2.4"/>
<line x1="434.70" y1="315.90" x2="429.70" y2="315.90" stroke="#000" stroke-width="2.4"/>
<line x1="434.70" y1="276.16" x2="429.70" y2="276.16" stroke="#000" stroke-width="2.4"/>
<line x1="434.70" y1="236.42" x2="429.70" y2="236.42" stroke="#000" stroke-width="2.4"/>
<line x1="434.70" y1="196.68" x2="429.70" y2="196.68" stroke="#000" stroke-width="2.4"/>
<line x1="434.70" y1="156.94" x2="429.70" y2="156.94" stroke="#000" stroke-width="2.4"/>
<line x1="434.70" y1="117.20" x2="429.70" y2="117.20" stroke="#000" stroke-width="2.4"/>
<line x1="434.70" y1="77.46" x2="429.70" y2="77.46" stroke="#000" stroke-width="2.4"/>
<line x1="434.70" y1="37.72" x2="429.70" y2="37.72" stroke="#000" stroke-width="2.4"/>
<line x1="434.70" y1="296.03" x2="432.10" y2="296.03" stroke="#000" stroke-width="2.4"/>
<line x1="434.70" y1="256.29" x2="432.10" y2="256.29" stroke="#000" stroke-width="2.4"/>
<line x1="434.70" y1="216.55" x2="432.10" y2="216.55" stroke="#000" stroke-width="2.4"/>
<line x1="434.70" y1="176.81" x2="432.10" y2="176.81" stroke="#000" stroke-width="2.4"/>
<line x1="434.70" y1="137.07" x2="432.10" y2="137.07" stroke="#000" stroke-width="2.4"/>
<line x1="434.70" y1="97.33" x2="432.10" y2="97.33" stroke="#000" stroke-width="2.4"/>
<line x1="434.70" y1="57.59" x2="432.10" y2="57.59" stroke="#000" stroke-width="2.4"/>
<line x1="434.70" y1="17.85" x2="432.10" y2="17.85" stroke="#000" stroke-width="2.4"/>
<rect x="77.7" y="7.4" width="357.0" height="328.3" fill="none" stroke="#000" stroke-width="3.0"/>
<line x1="625.20" y1="335.80" x2="625.20" y2="330.80" stroke="#000" stroke-width="2.4"/>
<line x1="625.20" y1="6.70" x2="625.20" y2="11.70" stroke="#000" stroke-width="2.4"/>
<line x1="664.04" y1="335.80" x2="664.04" y2="330.80" stroke="#000" stroke-width="2.4"/>
<line x1="664.04" y1="6.70" x2="664.04" y2="11.70" stroke="#000" stroke-width="2.4"/>
<line x1="702.88" y1="335.80" x2="702.88" y2="330.80" stroke="#000" stroke-width="2.4"/>
<line x1="702.88" y1="6.70" x2="702.88" y2="11.70" stroke="#000" stroke-width="2.4"/>
<line x1="741.72" y1="335.80" x2="741.72" y2="330.80" stroke="#000" stroke-width="2.4"/>
<line x1="741.72" y1="6.70" x2="741.72" y2="11.70" stroke="#000" stroke-width="2.4"/>
<line x1="780.56" y1="335.80" x2="780.56" y2="330.80" stroke="#000" stroke-width="2.4"/>
<line x1="780.56" y1="6.70" x2="780.56" y2="11.70" stroke="#000" stroke-width="2.4"/>
<line x1="819.40" y1="335.80" x2="819.40" y2="330.80" stroke="#000" stroke-width="2.4"/>
<line x1="819.40" y1="6.70" x2="819.40" y2="11.70" stroke="#000" stroke-width="2.4"/>
<line x1="858.24" y1="335.80" x2="858.24" y2="330.80" stroke="#000" stroke-width="2.4"/>
<line x1="858.24" y1="6.70" x2="858.24" y2="11.70" stroke="#000" stroke-width="2.4"/>
<line x1="897.08" y1="335.80" x2="897.08" y2="330.80" stroke="#000" stroke-width="2.4"/>
<line x1="897.08" y1="6.70" x2="897.08" y2="11.70" stroke="#000" stroke-width="2.4"/>
<line x1="935.92" y1="335.80" x2="935.92" y2="330.80" stroke="#000" stroke-width="2.4"/>
<line x1="935.92" y1="6.70" x2="935.92" y2="11.70" stroke="#000" stroke-width="2.4"/>
<line x1="644.62" y1="335.80" x2="644.62" y2="333.20" stroke="#000" stroke-width="2.4"/>
<line x1="644.62" y1="6.70" x2="644.62" y2="9.30" stroke="#000" stroke-width="2.4"/>
<line x1="683.46" y1="335.80" x2="683.46" y2="333.20" stroke="#000" stroke-width="2.4"/>
<line x1="683.46" y1="6.70" x2="683.46" y2="9.30" stroke="#000" stroke-width="2.4"/>
<line x1="722.30" y1="335.80" x2="722.30" y2="333.20" stroke="#000" stroke-width="2.4"/>
<line x1="722.30" y1="6.70" x2="722.30" y2="9.30" stroke="#000" stroke-width="2.4"/>
<line x1="761.14" y1="335.80" x2="761.14" y2="333.20" stroke="#000" stroke-width="2.4"/>
<line x1="761.14" y1="6.70" x2="761.14" y2="9.30" stroke="#000" stroke-width="2.4"/>
<line x1="799.98" y1="335.80" x2="799.98" y2="333.20" stroke="#000" stroke-width="2.4"/>
<line x1="799.98" y1="6.70" x2="799.98" y2="9.30" stroke="#000" stroke-width="2.4"/>
<line x1="838.82" y1="335.80" x2="838.82" y2="333.20" stroke="#000" stroke-width="2.4"/>
<line x1="838.82" y1="6.70" x2="838.82" y2="9.30" stroke="#000" stroke-width="2.4"/>
<line x1="877.66" y1="335.80" x2="877.66" y2="333.20" stroke="#000" stroke-width="2.4"/>
<line x1="877.66" y1="6.70" x2="877.66" y2="9.30" stroke="#000" stroke-width="2.4"/>
<line x1="916.50" y1="335.80" x2="916.50" y2="333.20" stroke="#000" stroke-width="2.4"/>
<line x1="916.50" y1="6.70" x2="916.50" y2="9.30" stroke="#000" stroke-width="2.4"/>
<line x1="605.80" y1="271.83" x2="610.80" y2="271.83" stroke="#000" stroke-width="2.4"/>
<line x1="605.80" y1="207.86" x2="610.80" y2="207.86" stroke="#000" stroke-width="2.4"/>
<line x1="605.80" y1="143.89" x2="610.80" y2="143.89" stroke="#000" stroke-width="2.4"/>
<line x1="605.80" y1="79.92" x2="610.80" y2="79.92" stroke="#000" stroke-width="2.4"/>
<line x1="605.80" y1="15.95" x2="610.80" y2="15.95" stroke="#000" stroke-width="2.4"/>
<line x1="605.80" y1="316.54" x2="608.40" y2="316.54" stroke="#000" stroke-width="2.4"/>
<line x1="605.80" y1="305.28" x2="608.40" y2="305.28" stroke="#000" stroke-width="2.4"/>
<line x1="605.80" y1="297.29" x2="608.40" y2="297.29" stroke="#000" stroke-width="2.4"/>
<line x1="605.80" y1="291.09" x2="608.40" y2="291.09" stroke="#000" stroke-width="2.4"/>
<line x1="605.80" y1="286.02" x2="608.40" y2="286.02" stroke="#000" stroke-width="2.4"/>
<line x1="605.80" y1="281.74" x2="608.40" y2="281.74" stroke="#000" stroke-width="2.4"/>
<line x1="605.80" y1="278.03" x2="608.40" y2="278.03" stroke="#000" stroke-width="2.4"/>
<line x1="605.80" y1="274.76" x2="608.40" y2="274.76" stroke="#000" stroke-width="2.4"/>
<line x1="605.80" y1="252.57" x2="608.40" y2="252.57" stroke="#000" stroke-width="2.4"/>
<line x1="605.80" y1="241.31" x2="608.40" y2="241.31" stroke="#000" stroke-width="2.4"/>
<line x1="605.80" y1="233.32" x2="608.40" y2="233.32" stroke="#000" stroke-width="2.4"/>
<line x1="605.80" y1="227.12" x2="608.40" y2="227.12" stroke="#000" stroke-width="2.4"/>
<line x1="605.80" y1="222.05" x2="608.40" y2="222.05" stroke="#000" stroke-width="2.4"/>
<line x1="605.80" y1="217.77" x2="608.40" y2="217.77" stroke="#000" stroke-width="2.4"/>
<line x1="605.80" y1="214.06" x2="608.40" y2="214.06" stroke="#000" stroke-width="2.4"/>
<line x1="605.80" y1="210.79" x2="608.40" y2="210.79" stroke="#000" stroke-width="2.4"/>
<line x1="605.80" y1="188.60" x2="608.40" y2="188.60" stroke="#000" stroke-width="2.4"/>
<line x1="605.80" y1="177.34" x2="608.40" y2="177.34" stroke="#000" stroke-width="2.4"/>
<line x1="605.80" y1="169.35" x2="608.40" y2="169.35" stroke="#000" stroke-width="2.4"/>
<line x1="605.80" y1="163.15" x2="608.40" y2="163.15" stroke="#000" stroke-width="2.4"/>
<line x1="605.80" y1="158.08" x2="608.40" y2="158.08" stroke="#000" stroke-width="2.4"/>
<line x1="605.80" y1="153.80" x2="608.40" y2="153.80" stroke="#000" stroke-width="2.4"/>
<line x1="605.80" y1="150.09" x2="608.40" y2="150.09" stroke="#000" stroke-width="2.4"/>
<line x1="605.80" y1="146.82" x2="608.40" y2="146.82" stroke="#000" stroke-width="2.4"/>
<line x1="605.80" y1="124.63" x2="608.40" y2="124.63" stroke="#000" stroke-width="2.4"/>
<line x1="605.80" y1="113.37" x2="608.40" y2="113.37" stroke="#000" stroke-width="2.4"/>
<line x1="605.80" y1="105.38" x2="608.40" y2="105.38" stroke="#000" stroke-width="2.4"/>
<line x1="605.80" y1="99.18" x2="608.40" y2="99.18" stroke="#000" stroke-width="2.4"/>
<line x1="605.80" y1="94.11" x2="608.40" y2="94.11" stroke="#000" stroke-width="2.4"/>
<line x1="605.80" y1="89.83" x2="608.40" y2="89.83" stroke="#000" stroke-width="2.4"/>
<line x1="605.80" y1="86.12" x2="608.40" y2="86.12" stroke="#000" stroke-width="2.4"/>
<line x1="605.80" y1="82.85" x2="608.40" y2="82.85" stroke="#000" stroke-width="2.4"/>
<line x1="605.80" y1="60.66" x2="608.40" y2="60.66" stroke="#000" stroke-width="2.4"/>
<line x1="605.80" y1="49.40" x2="608.40" y2="49.40" stroke="#000" stroke-width="2.4"/>
<line x1="605.80" y1="41.41" x2="608.40" y2="41.41" stroke="#000" stroke-width="2.4"/>
<line x1="605.80" y1="35.21" x2="608.40" y2="35.21" stroke="#000" stroke-width="2.4"/>
<line x1="605.80" y1="30.14" x2="608.40" y2="30.14" stroke="#000" stroke-width="2.4"/>
<line x1="605.80" y1="25.86" x2="608.40" y2="25.86" stroke="#000" stroke-width="2.4"/>
<line x1="605.80" y1="22.15" x2="608.40" y2="22.15" stroke="#000" stroke-width="2.4"/>
<line x1="605.80" y1="18.88" x2="608.40" y2="18.88" stroke="#000" stroke-width="2.4"/>
<line x1="955.60" y1="311.30" x2="950.60" y2="311.30" stroke="#000" stroke-width="2.4"/>
<line x1="955.60" y1="262.60" x2="950.60" y2="262.60" stroke="#000" stroke-width="2.4"/>
<line x1="955.60" y1="213.90" x2="950.60" y2="213.90" stroke="#000" stroke-width="2.4"/>
<line x1="955.60" y1="165.20" x2="950.60" y2="165.20" stroke="#000" stroke-width="2.4"/>
<line x1="955.60" y1="116.50" x2="950.60" y2="116.50" stroke="#000" stroke-width="2.4"/>
<line x1="955.60" y1="67.80" x2="950.60" y2="67.80" stroke="#000" stroke-width="2.4"/>
<line x1="955.60" y1="19.10" x2="950.60" y2="19.10" stroke="#000" stroke-width="2.4"/>
<line x1="955.60" y1="286.95" x2="953.00" y2="286.95" stroke="#000" stroke-width="2.4"/>
<line x1="955.60" y1="238.25" x2="953.00" y2="238.25" stroke="#000" stroke-width="2.4"/>
<line x1="955.60" y1="189.55" x2="953.00" y2="189.55" stroke="#000" stroke-width="2.4"/>
<line x1="955.60" y1="140.85" x2="953.00" y2="140.85" stroke="#000" stroke-width="2.4"/>
<line x1="955.60" y1="92.15" x2="953.00" y2="92.15" stroke="#000" stroke-width="2.4"/>
<line x1="955.60" y1="43.45" x2="953.00" y2="43.45" stroke="#000" stroke-width="2.4"/>
<rect x="605.8" y="6.7" width="349.80000000000007" height="329.1" fill="none" stroke="#000" stroke-width="3.0"/>
<ellipse cx="153.6" cy="216.3" rx="7.8" ry="32.4" fill="none" stroke="#000" stroke-width="1.9"/>
<line x1="153.60" y1="183.80" x2="134.46" y2="183.80" stroke="#000" stroke-width="1.8"/>
<path d="M130.4,183.8 L136.20000000000002,181.10000000000002 L135.33,183.8 L136.20000000000002,186.5 Z" fill="#000" stroke="#000" stroke-width="0.5" stroke-linejoin="round"/>
<ellipse cx="244.4" cy="303.8" rx="5.7" ry="23.45" fill="none" stroke="#000" stroke-width="1.9"/>
<line x1="244.40" y1="280.30" x2="261.94" y2="280.30" stroke="#000" stroke-width="1.8"/>
<path d="M266,280.3 L260.2,277.6 L261.07,280.3 L260.2,283.0 Z" fill="#000" stroke="#000" stroke-width="0.5" stroke-linejoin="round"/>
<ellipse cx="664.7" cy="192.55" rx="6.5" ry="30.15" fill="none" stroke="#000" stroke-width="1.8"/>
<line x1="664.70" y1="162.00" x2="652.76" y2="162.00" stroke="#000" stroke-width="1.8"/>
<path d="M648.7,162 L654.5,159.3 L653.63,162 L654.5,164.7 Z" fill="#000" stroke="#000" stroke-width="0.5" stroke-linejoin="round"/>
<ellipse cx="746.1" cy="288.9" rx="6.35" ry="30.6" fill="none" stroke="#000" stroke-width="1.85"/>
<line x1="746.10" y1="258.00" x2="757.34" y2="258.00" stroke="#000" stroke-width="1.8"/>
<path d="M761.4,258 L755.6,255.3 L756.47,258 L755.6,260.7 Z" fill="#000" stroke="#000" stroke-width="0.5" stroke-linejoin="round"/>
<rect x="82" y="9.6" width="174.89999999999998" height="94.9" fill="#fff" stroke="#000" stroke-width="1.8"/>
<line x1="87.30" y1="20.80" x2="120.20" y2="20.80" stroke="#0000ff" stroke-width="3.4"/>
<line x1="87.30" y1="44.10" x2="120.20" y2="44.10" stroke="#ff0000" stroke-width="3.4"/>
<ellipse cx="99.85" cy="67.3" rx="4.9" ry="5.15" fill="#fff" stroke="#1d6fe0" stroke-width="1.8"/>
<ellipse cx="99.85" cy="90.5" rx="4.9" ry="5.15" fill="#fff" stroke="#ff0000" stroke-width="1.4"/>
<rect x="609.6" y="8.5" width="132.60000000000002" height="76.9" fill="#fff" stroke="#000" stroke-width="1.7"/>
<line x1="614.00" y1="17.30" x2="639.70" y2="17.30" stroke="#0000ff" stroke-width="3.2"/>
<line x1="614.00" y1="36.20" x2="639.70" y2="36.20" stroke="#ff0000" stroke-width="3.2"/>
<ellipse cx="626.7" cy="55.1" rx="4.3" ry="5.3" fill="#fff" stroke="#1d6fe0" stroke-width="1.7"/>
<ellipse cx="626.7" cy="73.9" rx="4.3" ry="5.3" fill="#fff" stroke="#ff0000" stroke-width="1.7"/>
<g transform="translate(128.10,26.06) scale(0.9437,1.0441)"><text x="0" y="0" font-family="'Liberation Sans', sans-serif" font-weight="bold" font-size="15" text-anchor="start" stroke="#000" stroke-width="0.4" stroke-linejoin="round">TCAD, V<tspan font-size="10" dy="3.9">DS</tspan><tspan dy="-3.9"> = 0.7 V</tspan></text></g>
<g transform="translate(128.50,49.56) scale(0.9331,1.0441)"><text x="0" y="0" font-family="'Liberation Sans', sans-serif" font-weight="bold" font-size="15" text-anchor="start" stroke="#000" stroke-width="0.4" stroke-linejoin="round">TCAD, V<tspan font-size="10" dy="3.9">DS</tspan><tspan dy="-3.9"> = 0.05 V</tspan></text></g>
<g transform="translate(127.80,72.95) scale(0.9330,1.0237)"><text x="0" y="0" font-family="'Liberation Sans', sans-serif" font-weight="bold" font-size="15" text-anchor="start" stroke="#000" stroke-width="0.4" stroke-linejoin="round">Exp, V<tspan font-size="10" dy="3.9">DS</tspan><tspan dy="-3.9"> = 0.7 V</tspan></text></g>
<g transform="translate(127.79,96.45) scale(0.9423,1.0237)"><text x="0" y="0" font-family="'Liberation Sans', sans-serif" font-weight="bold" font-size="15" text-anchor="start" stroke="#000" stroke-width="0.4" stroke-linejoin="round">Exp, V<tspan font-size="10" dy="3.9">DS</tspan><tspan dy="-3.9"> = 0.05 V</tspan></text></g>
<g transform="translate(643.60,21.36) scale(0.7184,0.8339)"><text x="0" y="0" font-family="'Liberation Sans', sans-serif" font-weight="bold" font-size="15" text-anchor="start" stroke="#000" stroke-width="0.55" stroke-linejoin="round">TCAD, V<tspan font-size="10" dy="3.9">DS</tspan><tspan dy="-3.9"> = 0.8 V</tspan></text></g>
<g transform="translate(643.60,40.36) scale(0.7234,0.8339)"><text x="0" y="0" font-family="'Liberation Sans', sans-serif" font-weight="bold" font-size="15" text-anchor="start" stroke="#000" stroke-width="0.55" stroke-linejoin="round">TCAD, V<tspan font-size="10" dy="3.9">DS</tspan><tspan dy="-3.9"> = 0.05 V</tspan></text></g>
<g transform="translate(642.65,59.49) scale(0.7272,0.7797)"><text x="0" y="0" font-family="'Liberation Sans', sans-serif" font-weight="bold" font-size="15" text-anchor="start" stroke="#000" stroke-width="0.55" stroke-linejoin="round">Exp, V<tspan font-size="10" dy="3.9">DS</tspan><tspan dy="-3.9"> = 0.8 V</tspan></text></g>
<g transform="translate(642.65,78.31) scale(0.7322,0.8203)"><text x="0" y="0" font-family="'Liberation Sans', sans-serif" font-weight="bold" font-size="15" text-anchor="start" stroke="#000" stroke-width="0.55" stroke-linejoin="round">Exp, V<tspan font-size="10" dy="3.9">DS</tspan><tspan dy="-3.9"> = 0.05 V</tspan></text></g>
<g transform="translate(95.91,162.19) scale(0.8720,0.9383)"><text x="0" y="0" font-family="'Liberation Serif', serif" font-weight="normal" font-size="36" text-anchor="start" stroke="#000" stroke-width="0.6" stroke-linejoin="round">(a)</text></g>
<g transform="translate(619.47,143.10) scale(0.8278,0.9254)"><text x="0" y="0" font-family="'Liberation Serif', serif" font-weight="normal" font-size="36" text-anchor="start" stroke="#000" stroke-width="0.6" stroke-linejoin="round">(b)</text></g>
<g transform="translate(217.10,179.43) scale(0.9291,1.0233)"><text x="0" y="0" font-family="'Liberation Serif', serif" font-weight="bold" font-size="24" text-anchor="start" stroke="#000" stroke-width="0.6" stroke-linejoin="round">Lg = 20 nm</text></g>
<g transform="translate(720.46,172.12) scale(0.9455,1.0694)"><text x="0" y="0" font-family="'Liberation Serif', serif" font-weight="bold" font-size="27" text-anchor="start" stroke="#000" stroke-width="0.6" stroke-linejoin="round">Lg = 20 nm</text></g>
<g transform="translate(189.20,220.49) scale(0.9250,1.0391)"><text x="0" y="0" font-family="'Liberation Serif', serif" font-weight="bold" font-size="24" text-anchor="start" stroke="#000" stroke-width="0.6" stroke-linejoin="round">W<tspan font-size="16.5" dy="6.2">eff</tspan><tspan dy="-6.2"> = 92 nm</tspan></text></g>
<g transform="translate(685.10,204.99) scale(0.9410,1.0680)"><text x="0" y="0" font-family="'Liberation Serif', serif" font-weight="bold" font-size="27" text-anchor="start" stroke="#000" stroke-width="0.6" stroke-linejoin="round">W<tspan font-size="18.5" dy="7">eff</tspan><tspan dy="-7"> = 92 nm</tspan></text></g>
<g transform="translate(273.08,324.56) scale(0.8980,0.9754)"><text x="0" y="0" font-family="'Liberation Serif', serif" font-weight="bold" font-size="20" text-anchor="start" stroke="#000" stroke-width="0.3" stroke-linejoin="round">Bulk-FinFET</text></g>
<g transform="translate(799.05,320.16) scale(0.8548,0.9404)"><text x="0" y="0" font-family="'Liberation Serif', serif" font-weight="bold" font-size="20" text-anchor="start" stroke="#000" stroke-width="0.3" stroke-linejoin="round">SOI-FinFET</text></g>
<g transform="translate(99.67,359.93) scale(0.9435,1.0761)"><text x="0" y="0" font-family="'Liberation Sans', sans-serif" font-weight="bold" font-size="25" text-anchor="middle">0.0</text></g>
<g transform="translate(144.36,359.93) scale(0.9435,1.0761)"><text x="0" y="0" font-family="'Liberation Sans', sans-serif" font-weight="bold" font-size="25" text-anchor="middle">0.1</text></g>
<g transform="translate(189.05,359.93) scale(0.9435,1.0761)"><text x="0" y="0" font-family="'Liberation Sans', sans-serif" font-weight="bold" font-size="25" text-anchor="middle">0.2</text></g>
<g transform="translate(233.74,359.93) scale(0.9435,1.0761)"><text x="0" y="0" font-family="'Liberation Sans', sans-serif" font-weight="bold" font-size="25" text-anchor="middle">0.3</text></g>
<g transform="translate(278.43,359.93) scale(0.9435,1.0761)"><text x="0" y="0" font-family="'Liberation Sans', sans-serif" font-weight="bold" font-size="25" text-anchor="middle">0.4</text></g>
<g transform="translate(323.12,359.93) scale(0.9435,1.0761)"><text x="0" y="0" font-family="'Liberation Sans', sans-serif" font-weight="bold" font-size="25" text-anchor="middle">0.5</text></g>
<g transform="translate(367.81,359.93) scale(0.9435,1.0761)"><text x="0" y="0" font-family="'Liberation Sans', sans-serif" font-weight="bold" font-size="25" text-anchor="middle">0.6</text></g>
<g transform="translate(412.50,359.93) scale(0.9435,1.0761)"><text x="0" y="0" font-family="'Liberation Sans', sans-serif" font-weight="bold" font-size="25" text-anchor="middle">0.7</text></g>
<g transform="translate(630.61,366.14) scale(0.8855,1.0479)"><text x="0" y="0" font-family="'Liberation Sans', sans-serif" font-weight="bold" font-size="25" text-anchor="middle">0.0</text></g>
<g transform="translate(669.56,366.14) scale(0.8855,1.0479)"><text x="0" y="0" font-family="'Liberation Sans', sans-serif" font-weight="bold" font-size="25" text-anchor="middle">0.1</text></g>
<g transform="translate(708.51,366.14) scale(0.8855,1.0479)"><text x="0" y="0" font-family="'Liberation Sans', sans-serif" font-weight="bold" font-size="25" text-anchor="middle">0.2</text></g>
<g transform="translate(747.46,366.14) scale(0.8855,1.0479)"><text x="0" y="0" font-family="'Liberation Sans', sans-serif" font-weight="bold" font-size="25" text-anchor="middle">0.3</text></g>
<g transform="translate(786.41,366.14) scale(0.8855,1.0479)"><text x="0" y="0" font-family="'Liberation Sans', sans-serif" font-weight="bold" font-size="25" text-anchor="middle">0.4</text></g>
<g transform="translate(825.36,366.14) scale(0.8855,1.0479)"><text x="0" y="0" font-family="'Liberation Sans', sans-serif" font-weight="bold" font-size="25" text-anchor="middle">0.5</text></g>
<g transform="translate(864.31,366.14) scale(0.8855,1.0479)"><text x="0" y="0" font-family="'Liberation Sans', sans-serif" font-weight="bold" font-size="25" text-anchor="middle">0.6</text></g>
<g transform="translate(903.26,366.14) scale(0.8855,1.0479)"><text x="0" y="0" font-family="'Liberation Sans', sans-serif" font-weight="bold" font-size="25" text-anchor="middle">0.7</text></g>
<g transform="translate(942.21,366.14) scale(0.8855,1.0479)"><text x="0" y="0" font-family="'Liberation Sans', sans-serif" font-weight="bold" font-size="25" text-anchor="middle">0.8</text></g>
<g transform="translate(31.59,345.43) scale(0.9426,1.0648)"><text x="0" y="0" font-family="'Liberation Sans', sans-serif" font-weight="bold" font-size="25" text-anchor="start">10</text></g>
<g transform="translate(31.59,297.08) scale(0.9426,1.0648)"><text x="0" y="0" font-family="'Liberation Sans', sans-serif" font-weight="bold" font-size="25" text-anchor="start">10</text></g>
<g transform="translate(31.59,248.73) scale(0.9426,1.0648)"><text x="0" y="0" font-family="'Liberation Sans', sans-serif" font-weight="bold" font-size="25" text-anchor="start">10</text></g>
<g transform="translate(31.59,200.38) scale(0.9426,1.0648)"><text x="0" y="0" font-family="'Liberation Sans', sans-serif" font-weight="bold" font-size="25" text-anchor="start">10</text></g>
<g transform="translate(31.59,152.03) scale(0.9426,1.0648)"><text x="0" y="0" font-family="'Liberation Sans', sans-serif" font-weight="bold" font-size="25" text-anchor="start">10</text></g>
<g transform="translate(31.59,103.68) scale(0.9426,1.0648)"><text x="0" y="0" font-family="'Liberation Sans', sans-serif" font-weight="bold" font-size="25" text-anchor="start">10</text></g>
<g transform="translate(31.59,55.33) scale(0.9426,1.0648)"><text x="0" y="0" font-family="'Liberation Sans', sans-serif" font-weight="bold" font-size="25" text-anchor="start">10</text></g>
<g transform="translate(58.08,334.80) scale(0.9538,1.0578)"><text x="0" y="0" font-family="'Liberation Sans', sans-serif" font-weight="bold" font-size="16" text-anchor="start">-9</text></g>
<g transform="translate(58.08,286.45) scale(0.9538,1.0578)"><text x="0" y="0" font-family="'Liberation Sans', sans-serif" font-weight="bold" font-size="16" text-anchor="start">-8</text></g>
<g transform="translate(58.08,238.10) scale(0.9538,1.0578)"><text x="0" y="0" font-family="'Liberation Sans', sans-serif" font-weight="bold" font-size="16" text-anchor="start">-7</text></g>
<g transform="translate(58.08,189.75) scale(0.9538,1.0578)"><text x="0" y="0" font-family="'Liberation Sans', sans-serif" font-weight="bold" font-size="16" text-anchor="start">-6</text></g>
<g transform="translate(58.08,141.40) scale(0.9538,1.0578)"><text x="0" y="0" font-family="'Liberation Sans', sans-serif" font-weight="bold" font-size="16" text-anchor="start">-5</text></g>
<g transform="translate(58.08,93.05) scale(0.9538,1.0578)"><text x="0" y="0" font-family="'Liberation Sans', sans-serif" font-weight="bold" font-size="16" text-anchor="start">-4</text></g>
<g transform="translate(58.08,44.70) scale(0.9538,1.0578)"><text x="0" y="0" font-family="'Liberation Sans', sans-serif" font-weight="bold" font-size="16" text-anchor="start">-3</text></g>
<g transform="translate(562.38,345.64) scale(0.8832,1.0761)"><text x="0" y="0" font-family="'Liberation Sans', sans-serif" font-weight="bold" font-size="25" text-anchor="start">10</text></g>
<g transform="translate(562.38,281.67) scale(0.8832,1.0761)"><text x="0" y="0" font-family="'Liberation Sans', sans-serif" font-weight="bold" font-size="25" text-anchor="start">10</text></g>
<g transform="translate(562.38,217.70) scale(0.8832,1.0761)"><text x="0" y="0" font-family="'Liberation Sans', sans-serif" font-weight="bold" font-size="25" text-anchor="start">10</text></g>
<g transform="translate(562.38,153.73) scale(0.8832,1.0761)"><text x="0" y="0" font-family="'Liberation Sans', sans-serif" font-weight="bold" font-size="25" text-anchor="start">10</text></g>
<g transform="translate(562.38,89.76) scale(0.8832,1.0761)"><text x="0" y="0" font-family="'Liberation Sans', sans-serif" font-weight="bold" font-size="25" text-anchor="start">10</text></g>
<g transform="translate(562.38,25.79) scale(0.8832,1.0761)"><text x="0" y="0" font-family="'Liberation Sans', sans-serif" font-weight="bold" font-size="25" text-anchor="start">10</text></g>
<g transform="translate(587.04,335.31) scale(0.8769,1.0667)"><text x="0" y="0" font-family="'Liberation Sans', sans-serif" font-weight="bold" font-size="16" text-anchor="start">-8</text></g>
<g transform="translate(587.04,271.34) scale(0.8769,1.0667)"><text x="0" y="0" font-family="'Liberation Sans', sans-serif" font-weight="bold" font-size="16" text-anchor="start">-7</text></g>
<g transform="translate(587.04,207.37) scale(0.8769,1.0667)"><text x="0" y="0" font-family="'Liberation Sans', sans-serif" font-weight="bold" font-size="16" text-anchor="start">-6</text></g>
<g transform="translate(587.04,143.40) scale(0.8769,1.0667)"><text x="0" y="0" font-family="'Liberation Sans', sans-serif" font-weight="bold" font-size="16" text-anchor="start">-5</text></g>
<g transform="translate(587.04,79.43) scale(0.8769,1.0667)"><text x="0" y="0" font-family="'Liberation Sans', sans-serif" font-weight="bold" font-size="16" text-anchor="start">-4</text></g>
<g transform="translate(587.04,15.46) scale(0.8769,1.0667)"><text x="0" y="0" font-family="'Liberation Sans', sans-serif" font-weight="bold" font-size="16" text-anchor="start">-3</text></g>
<g transform="translate(444.50,323.73) scale(0.9333,1.0930)"><text x="0" y="0" font-family="'Liberation Sans', sans-serif" font-weight="bold" font-size="25" text-anchor="start">0.0</text></g>
<g transform="translate(444.50,283.99) scale(0.9333,1.0930)"><text x="0" y="0" font-family="'Liberation Sans', sans-serif" font-weight="bold" font-size="25" text-anchor="start">0.2</text></g>
<g transform="translate(444.50,244.25) scale(0.9333,1.0930)"><text x="0" y="0" font-family="'Liberation Sans', sans-serif" font-weight="bold" font-size="25" text-anchor="start">0.4</text></g>
<g transform="translate(444.50,204.51) scale(0.9333,1.0930)"><text x="0" y="0" font-family="'Liberation Sans', sans-serif" font-weight="bold" font-size="25" text-anchor="start">0.6</text></g>
<g transform="translate(444.50,164.77) scale(0.9333,1.0930)"><text x="0" y="0" font-family="'Liberation Sans', sans-serif" font-weight="bold" font-size="25" text-anchor="start">0.8</text></g>
<g transform="translate(444.50,125.03) scale(0.9333,1.0930)"><text x="0" y="0" font-family="'Liberation Sans', sans-serif" font-weight="bold" font-size="25" text-anchor="start">1.0</text></g>
<g transform="translate(444.50,85.29) scale(0.9333,1.0930)"><text x="0" y="0" font-family="'Liberation Sans', sans-serif" font-weight="bold" font-size="25" text-anchor="start">1.2</text></g>
<g transform="translate(444.50,45.55) scale(0.9333,1.0930)"><text x="0" y="0" font-family="'Liberation Sans', sans-serif" font-weight="bold" font-size="25" text-anchor="start">1.4</text></g>
<g transform="translate(960.81,319.44) scale(0.8885,1.0592)"><text x="0" y="0" font-family="'Liberation Sans', sans-serif" font-weight="bold" font-size="25" text-anchor="start">0.0</text></g>
<g transform="translate(960.81,270.74) scale(0.8885,1.0592)"><text x="0" y="0" font-family="'Liberation Sans', sans-serif" font-weight="bold" font-size="25" text-anchor="start">0.2</text></g>
<g transform="translate(960.81,222.04) scale(0.8885,1.0592)"><text x="0" y="0" font-family="'Liberation Sans', sans-serif" font-weight="bold" font-size="25" text-anchor="start">0.4</text></g>
<g transform="translate(960.81,173.34) scale(0.8885,1.0592)"><text x="0" y="0" font-family="'Liberation Sans', sans-serif" font-weight="bold" font-size="25" text-anchor="start">0.6</text></g>
<g transform="translate(960.81,124.64) scale(0.8885,1.0592)"><text x="0" y="0" font-family="'Liberation Sans', sans-serif" font-weight="bold" font-size="25" text-anchor="start">0.8</text></g>
<g transform="translate(960.81,75.94) scale(0.8885,1.0592)"><text x="0" y="0" font-family="'Liberation Sans', sans-serif" font-weight="bold" font-size="25" text-anchor="start">1.0</text></g>
<g transform="translate(960.81,27.24) scale(0.8885,1.0592)"><text x="0" y="0" font-family="'Liberation Sans', sans-serif" font-weight="bold" font-size="25" text-anchor="start">1.2</text></g>
<g transform="translate(121.78,390.62) scale(0.9725,1.1222)"><text x="0" y="0" font-family="'Liberation Sans', sans-serif" font-weight="bold" font-size="28" text-anchor="start">Gate Voltage, V<tspan font-size="19.5" dy="6.5">GS</tspan><tspan dy="-6.5"> (V)</tspan></text></g>
<g transform="translate(653.05,394.30) scale(0.9237,1.0815)"><text x="0" y="0" font-family="'Liberation Sans', sans-serif" font-weight="bold" font-size="28" text-anchor="start">Gate Voltage, V<tspan font-size="19.5" dy="6.5">GS</tspan><tspan dy="-6.5"> (V)</tspan></text></g>
<g transform="translate(19.90,346.32) rotate(-90) scale(1.0611,1.0026)"><text x="0" y="0" font-family="'Liberation Sans', sans-serif" font-weight="bold" font-size="28" text-anchor="start">Drain Current, I<tspan font-size="19" dy="7">DS</tspan><tspan dy="-7"> (A/µm)</tspan></text></g>
<g transform="translate(509.00,376.73) rotate(-90) scale(1.0631,1.0286)"><text x="0" y="0" font-family="'Liberation Sans', sans-serif" font-weight="bold" font-size="28" text-anchor="start">Drain Current, I<tspan font-size="19" dy="7">DS</tspan><tspan dy="-7"> (mA/µm)</tspan></text></g>
<g transform="translate(548.80,344.22) rotate(-90) scale(1.0596,0.9662)"><text x="0" y="0" font-family="'Liberation Sans', sans-serif" font-weight="bold" font-size="28" text-anchor="start">Drain Current, I<tspan font-size="19" dy="7">DS</tspan><tspan dy="-7"> (A/µm)</tspan></text></g>
<g transform="translate(1018.30,372.03) rotate(-90) scale(1.0626,0.9922)"><text x="0" y="0" font-family="'Liberation Sans', sans-serif" font-weight="bold" font-size="28" text-anchor="start">Drain Current, I<tspan font-size="19" dy="7">DS</tspan><tspan dy="-7"> (mA/µm)</tspan></text></g>
</svg></body></html>
